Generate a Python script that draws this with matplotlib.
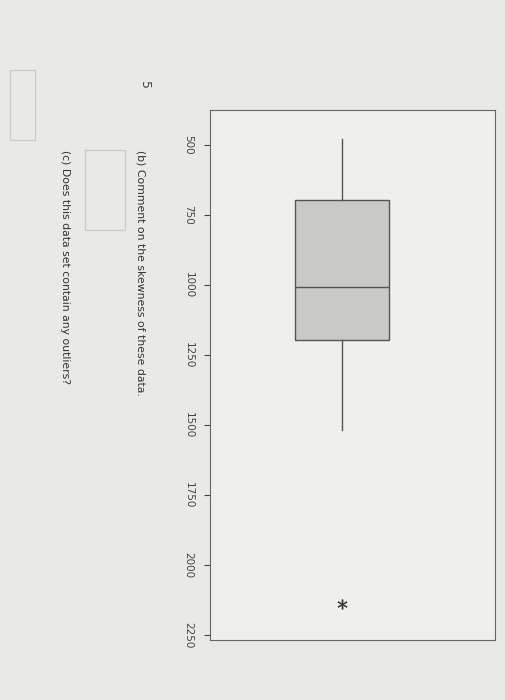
import matplotlib.pyplot as plt
import matplotlib.patches as mpatches

# boxplot summary
whisker_lo = 480
q1 = 696
median = 1007
q3 = 1196
whisker_hi = 1518
outliers = [2140]
ticks = [500, 750, 1000, 1250, 1500, 1750, 2000, 2250]

fig = plt.figure(figsize=(5.05, 7.0), dpi=100)
fig.patch.set_facecolor("#e9e9e7")

ax = fig.add_axes([0.416, 0.086, 0.564, 0.757])
ax.set_facecolor("#efefed")
stats = [dict(med=median, q1=q1, q3=q3, whislo=whisker_lo, whishi=whisker_hi,
              fliers=outliers)]
ax.bxp(stats, positions=[0.463], widths=0.333, showcaps=False, patch_artist=True,
       boxprops=dict(facecolor="#c9c9c8", edgecolor="#555555", linewidth=1),
       medianprops=dict(color="#555555", linewidth=1),
       whiskerprops=dict(color="#555555", linewidth=1),
       flierprops=dict(marker="$*$", markersize=7, markeredgecolor="#333333",
                       markerfacecolor="#333333", markeredgewidth=0.3))
ax.set_xlim(0, 1)
ax.set_ylim(2268, 375)
ax.set_xticks([])
ax.set_yticks(ticks)
ax.set_yticklabels([str(t) for t in ticks], rotation=-90, va="center",
                   fontsize=7.5, color="#333333")
ax.tick_params(axis="y", pad=8, length=4, colors="#444444")
for s in ax.spines.values():
    s.set_color("#666666")

fig.text(145 / 505, 1 - 85 / 700, "5", rotation=-90, fontsize=9,
         color="#444444", ha="center", va="center")
fig.text(140 / 505, 1 - 150 / 700, "(b) Comment on the skewness of these data.",
         rotation=-90, fontsize=7.8, color="#333333", ha="center", va="top")
fig.text(65 / 505, 1 - 150 / 700, "(c) Does this data set contain any outliers?",
         rotation=-90, fontsize=7.8, color="#333333", ha="center", va="top")
fig.patches.append(mpatches.Rectangle((85 / 505, 1 - 230 / 700), 40 / 505, 80 / 700,
                                      transform=fig.transFigure, fill=False,
                                      edgecolor="#cccccc", linewidth=1))
fig.patches.append(mpatches.Rectangle((10 / 505, 1 - 140 / 700), 25 / 505, 70 / 700,
                                      transform=fig.transFigure, fill=False,
                                      edgecolor="#cccccc", linewidth=1))

fig.savefig("out.png", dpi=100, facecolor=fig.get_facecolor())
